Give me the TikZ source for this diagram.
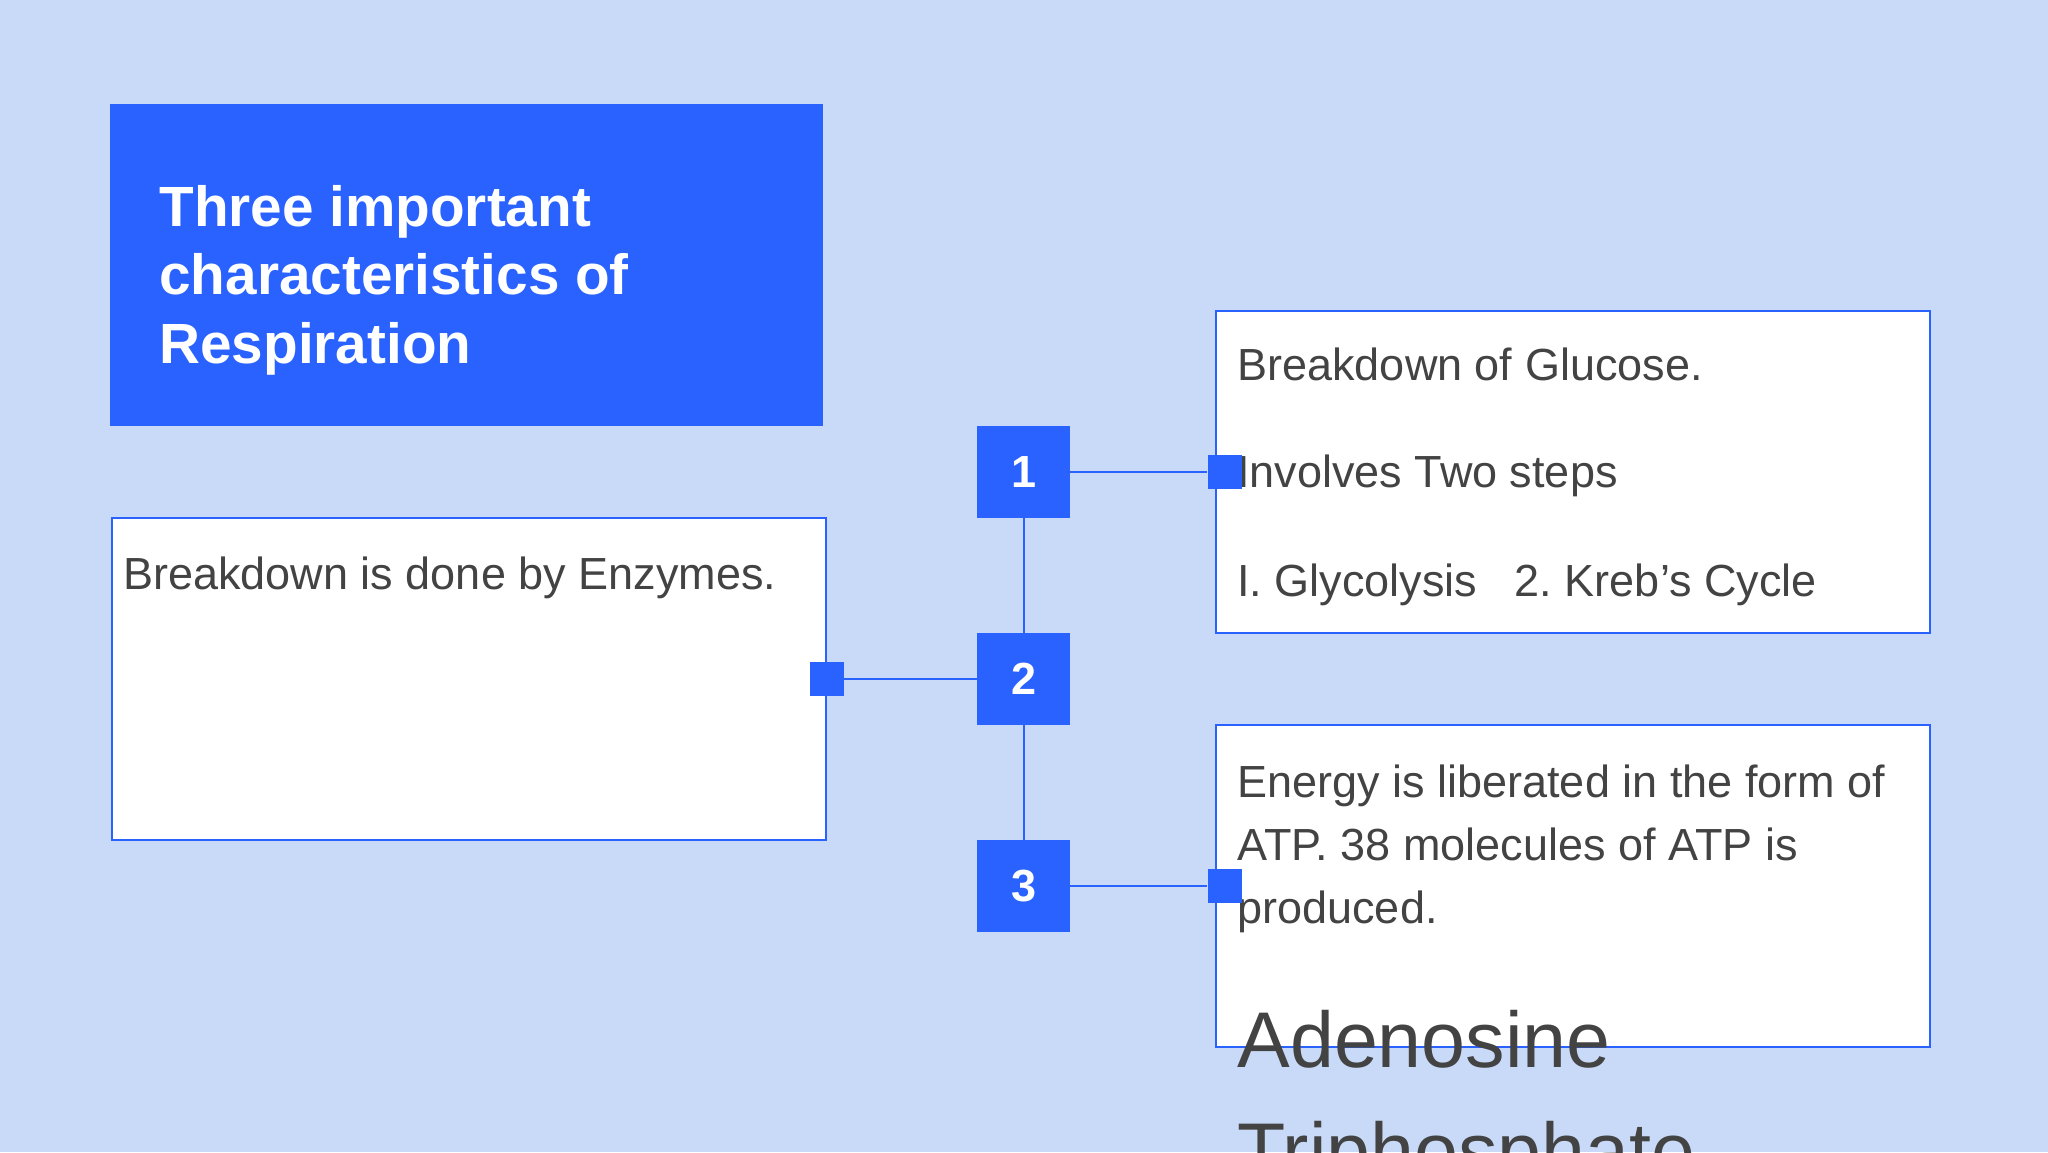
\documentclass[tikz,border=0pt]{standalone}
\usepackage{fontspec}
\setmainfont{Liberation Sans}
\definecolor{bg}{HTML}{C9DAF8}
\definecolor{blu}{HTML}{2962FF}
\definecolor{txt}{HTML}{434343}
\begin{document}
\frenchspacing
\begin{tikzpicture}[x=0.5pt,y=-0.5pt,
  card/.style={draw=blu, line width=1pt, fill=white, minimum width=357pt, minimum height=161pt, inner sep=0pt},
  titlebox/.style={fill=blu, minimum width=356.5pt, minimum height=161pt, inner sep=0pt},
  numbox/.style={fill=blu, minimum width=46.5pt, minimum height=46pt, inner sep=0pt, text=white, font=\fontsize{22.5pt}{27pt}\selectfont\bfseries},
  pin/.style={fill=blu, minimum size=17pt, inner sep=0pt},
  body/.style={anchor=base west, inner sep=0pt, text=txt, font=\fontsize{22.5pt}{27pt}\selectfont},
  big/.style={anchor=base west, inner sep=0pt, text=txt, font=\fontsize{39.5pt}{47pt}\selectfont},
  ttl/.style={anchor=base west, inner sep=0pt, text=white, font=\fontsize{28.35pt}{34pt}\selectfont\bfseries},
  conn/.style={draw=blu, line width=1pt}
]
\useasboundingbox (0,0) rectangle (2048,1152);
\fill[bg] (0,0) rectangle (2048,1152);
\clip (0,0) rectangle (2048,1152);

% title
\node[titlebox] (title) at (466.5,265) {};
\node[ttl] (t1) at (159,226) {Three important};
\node[ttl] (t2) at (159,294) {characteristics of};
\node[ttl] (t3) at (159,363) {Respiration};

% cards
\node[card] (left) at (469,679) {};
\node[card] (r1) at (1573,472) {};
\node[card] (r2) at (1573,886) {};

% number boxes
\node[numbox] (n1) at (1023.5,472) {1};
\node[numbox] (n2) at (1023.5,679) {2};
\node[numbox] (n3) at (1023.5,886) {3};

% texts
\node[body] (lt) at (123,589) {Breakdown is done by Enzymes.};
\node[body] (a1) at (1237,380) {Breakdown of Glucose.};
\node[body] (a2) at (1237,487) {Involves Two steps};
\node[body] (a3) at (1237,596) {I. Glycolysis\ \ \ 2. Kreb’s Cycle};
\node[body] (b1) at (1237,797) {Energy is liberated in the form of};
\node[body] (b2) at (1237,860) {ATP. 38 molecules of ATP is};
\node[body] (b3) at (1237,923) {produced.};
\node[big] (b4) at (1237,1067) {Adenosine};
\node[big] (b5) at (1237,1178) {Triphosphate};

% pins
\node[pin] (p1) at (1224.5,472) {};
\node[pin] (p2) at (827,679) {};
\node[pin] (p3) at (1224.5,886) {};

% connectors
\draw[conn] (n1.east) -- (p1.west);
\draw[conn] (n1.south) -- (n2.north);
\draw[conn] (n2.south) -- (n3.north);
\draw[conn] (n2.west) -- (p2.east);
\draw[conn] (n3.east) -- (p3.west);
\end{tikzpicture}
\end{document}
